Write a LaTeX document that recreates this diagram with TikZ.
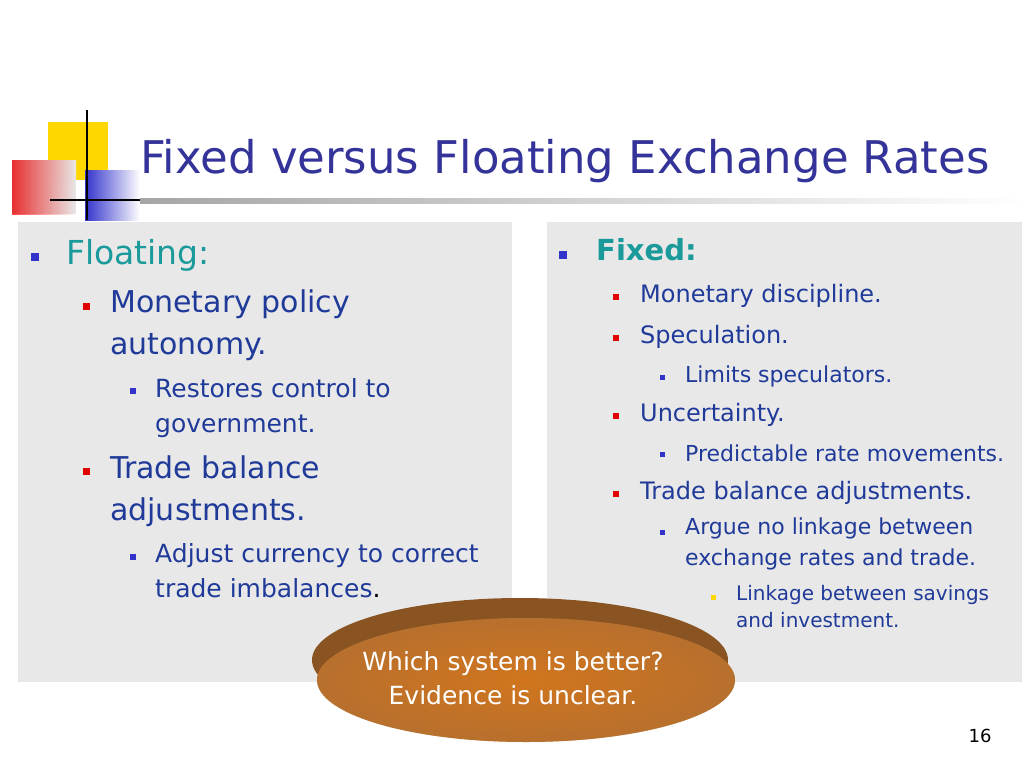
\documentclass[tikz,border=0pt]{standalone}
\usepackage{fontspec}
\setmainfont{DejaVu Sans}
\begin{document}
\begin{tikzpicture}[x=1pt,y=-1pt,
  tt/.style={anchor=west,inner sep=0pt,align=left,text=txtblue},
  bul/.style={fill=#1,inner sep=0pt,minimum size=7pt},
  ]
\definecolor{txtblue}{HTML}{1F3A99}
\definecolor{ttl}{HTML}{333399}
\definecolor{teal}{HTML}{1A9A9A}
\definecolor{pan}{HTML}{E8E8E8}
\definecolor{bblue}{HTML}{3333CC}
\definecolor{bred}{HTML}{E00000}
\definecolor{byel}{HTML}{FFD700}
\definecolor{brown}{HTML}{B8702E}
\useasboundingbox (0,0) rectangle (1024,768);
\fill[white] (0,0) rectangle (1024,768);
% logo
\fill[byel] (48,122) rectangle (108,180);
\fill[left color=bblue, right color=white] (85,170) rectangle (140,220);
\fill[left color=red!80, right color=white, opacity=0.9] (12,160) rectangle (76,214);
\draw[black,line width=1.5pt] (87,110) -- (87,220);
\draw[black,line width=1.5pt] (50,200) -- (140,200);
% title rule
\fill[left color=gray!70, right color=white] (140,198) rectangle (1024,203);
\node[anchor=base west,inner sep=0pt,text=ttl,font=\fontsize{45}{50}\selectfont] (title) at (140,173) {Fixed versus Floating Exchange Rates};
% panels
\fill[pan] (18,222) rectangle (512,682);
\fill[pan] (547,222) rectangle (1022,682);
% left
\node[bul=bblue,minimum size=8pt] (b1) at (35,257) {};
\node[tt,text=teal,font=\fontsize{33}{36}\selectfont] (fl) at (66,255) {Floating:};
\node[bul=bred] (b2) at (86,306) {};
\node[tt,font=\fontsize{30}{42}\selectfont,anchor=north west] (mp) at (110,290) {Monetary policy\\autonomy.};
\node[bul=bblue,minimum size=6pt] (b3) at (133,391) {};
\node[tt,font=\fontsize{25}{35}\selectfont,anchor=north west] (rc) at (155,378) {Restores control to\\government.};
\node[bul=bred] (b4) at (86,471) {};
\node[tt,font=\fontsize{30}{42}\selectfont,anchor=north west] (tb) at (110,455) {Trade balance\\adjustments.};
\node[bul=bblue,minimum size=6pt] (b5) at (133,557) {};
\node[tt,font=\fontsize{25}{35}\selectfont,anchor=north west] (ac) at (155,543) {Adjust currency to correct\\trade imbalances{\color{black}.}};
% right
\node[bul=bblue,minimum size=8pt] (r1) at (563,255) {};
\node[tt,text=teal,font=\bfseries\fontsize{29}{34}\selectfont] (fx) at (596,250) {Fixed:};
\node[bul=bred,minimum size=6pt] (r2) at (616,297) {};
\node[tt,font=\fontsize{24}{26}\selectfont] (md) at (640,296) {Monetary discipline.};
\node[bul=bred,minimum size=6pt] (r3) at (616,338) {};
\node[tt,font=\fontsize{24}{26}\selectfont] (sp) at (640,337) {Speculation.};
\node[bul=bblue,minimum size=5pt] (r4) at (662,377) {};
\node[tt,font=\fontsize{22}{24}\selectfont] (ls) at (685,376) {Limits speculators.};
\node[bul=bred,minimum size=6pt] (r5) at (616,416) {};
\node[tt,font=\fontsize{24}{26}\selectfont] (un) at (640,415) {Uncertainty.};
\node[bul=bblue,minimum size=5pt] (r6) at (662,454) {};
\node[tt,font=\fontsize{22}{24}\selectfont] (pr) at (685,453) {Predictable rate movements.};
\node[bul=bred,minimum size=6pt] (r7) at (616,494) {};
\node[tt,font=\fontsize{24}{26}\selectfont] (tba) at (640,493) {Trade balance adjustments.};
\node[bul=bblue,minimum size=5pt] (r8) at (662,532) {};
\node[tt,font=\fontsize{22}{31}\selectfont,anchor=north west] (an) at (685,518) {Argue no linkage between\\exchange rates and trade.};
\node[bul=byel,minimum size=5pt] (r9) at (713,597) {};
\node[tt,font=\fontsize{20}{27}\selectfont,anchor=north west] (lk) at (736,585) {Linkage between savings\\and investment.};
% ellipse
\fill[brown!75!black] (520,660) ellipse [x radius=208, y radius=62];
\fill[brown] (526,680) ellipse [x radius=209, y radius=62];
\shade[inner color=orange!70!brown, outer color=brown, opacity=0.5] (526,680) ellipse [x radius=209, y radius=62];
\node[align=center,text=white,font=\fontsize{25}{34}\selectfont,inner sep=0pt] (ev) at (513,678) {Which system is better?\\Evidence is unclear.};
\node[anchor=base,inner sep=0pt,font=\fontsize{18}{20}\selectfont] (pg) at (980,742) {16};
\end{tikzpicture}
\end{document}
